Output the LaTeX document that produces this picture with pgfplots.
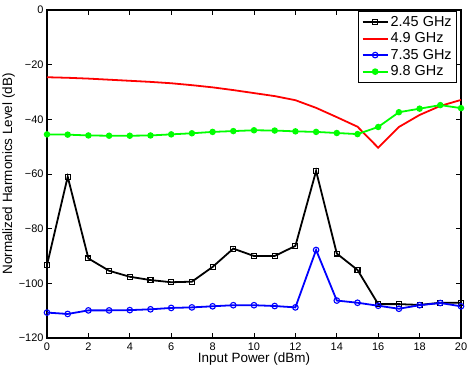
\documentclass[border=0pt]{standalone}
\usepackage{fontspec}
\setmainfont{Liberation Sans}
\usepackage{pgfplots}
\pgfplotsset{compat=1.18}
\begin{document}
\begin{tikzpicture}
\begin{axis}[
  scale only axis,
  width=414bp, height=328bp,
  xmin=0, xmax=20, ymin=-120, ymax=0,
  xtick={0,2,...,20}, ytick={-120,-100,...,0},
  yticklabels={−120,−100,−80,−60,−40,−20,0},
  tick align=inside, tick pos=both,
  major tick length=5bp,
  axis line style={line width=1.3pt},
  every tick/.style={black, line width=1pt},
  /pgf/number format/assume math mode=true,
  tick label style={font=\fontsize{11}{13}\selectfont},
  label style={font=\fontsize{13.5}{15}\selectfont},
  xlabel={Input Power (dBm)},
  ylabel={Normalized Harmonics Level (dB)},
  xticklabel style={yshift=-1bp},
  xlabel style={yshift=4bp},
  ylabel style={yshift=-3bp},
  legend style={at={(0.99,0.997)}, anchor=north east, font=\fontsize{14.5}{16}\selectfont,
    draw=black, inner xsep=3pt, inner ysep=3pt, row sep=1pt},
  legend cell align=left,
  every axis plot/.append style={legend image code/.code={
    \draw[mark repeat=2,mark phase=2,#1,line width=2pt] plot coordinates {(0bp,0bp)(12.5bp,0bp)(25bp,0bp)};}},
]
\addplot[black, line width=1.8pt, mark=square, mark size=2.5pt, mark options={line width=1.1pt}] coordinates {
(0,-93.3) (1,-61.0) (2,-90.9) (3,-95.4) (4,-97.6) (5,-98.8) (6,-99.6) (7,-99.4) (8,-94.0) (9,-87.3) (10,-90.0)
(11,-90.0) (12,-86.3) (13,-58.9) (14,-89.1) (15,-95.1) (16,-107.6) (17,-107.6) (18,-107.9) (19,-107.1) (20,-107.1)};
\addlegendentry{2.45 GHz}
\addplot[red, line width=1.8pt] coordinates {
(0,-24.6) (1,-24.8) (2,-25.1) (3,-25.5) (4,-25.9) (5,-26.3) (6,-26.8) (7,-27.5) (8,-28.3) (9,-29.3) (10,-30.4)
(11,-31.5) (12,-33.0) (13,-35.8) (14,-39.2) (15,-42.7) (16,-50.4) (17,-42.8) (18,-38.4) (19,-35.1) (20,-32.9)};
\addlegendentry{4.9 GHz}
\addplot[blue, line width=1.8pt, mark=o, mark size=2.8pt, mark options={line width=1.1pt}] coordinates {
(0,-110.7) (1,-111.2) (2,-109.9) (3,-109.9) (4,-109.8) (5,-109.5) (6,-109.0) (7,-108.8) (8,-108.4) (9,-108.0) (10,-108.0)
(11,-108.3) (12,-108.8) (13,-87.8) (14,-106.3) (15,-107.1) (16,-108.2) (17,-109.3) (18,-108.0) (19,-107.2) (20,-108.4)};
\addlegendentry{7.35 GHz}
\addplot[green, line width=1.8pt, mark=*, mark size=2.3pt] coordinates {
(0,-45.5) (1,-45.6) (2,-45.9) (3,-46.0) (4,-46.0) (5,-45.9) (6,-45.5) (7,-45.1) (8,-44.6) (9,-44.3) (10,-44.0)
(11,-44.1) (12,-44.4) (13,-44.6) (14,-45.0) (15,-45.4) (16,-42.8) (17,-37.4) (18,-36.1) (19,-34.8) (20,-35.9)};
\addlegendentry{9.8 GHz}
\end{axis}
\pgfresetboundingbox
\path (current axis.south west) ++(-47bp,-32bp);
\path (current axis.north east) ++(13bp,10bp);
\end{tikzpicture}
\end{document}
